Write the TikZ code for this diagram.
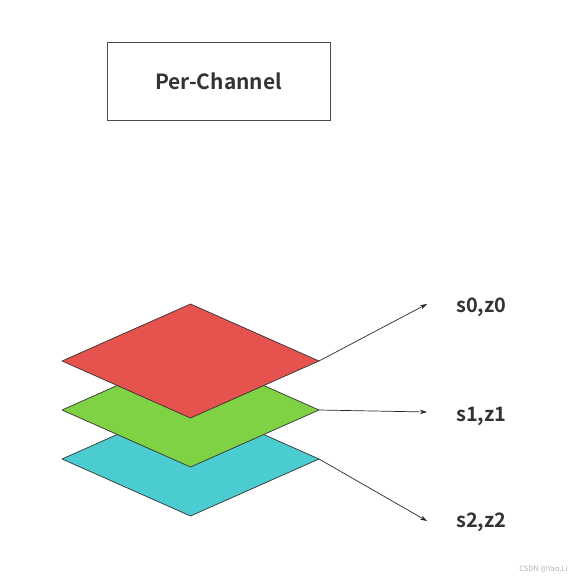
\documentclass[tikz,border=0pt]{standalone}
\usepackage{fontspec}
\setmainfont{Noto Sans CJK SC}[BoldFont={Noto Sans CJK SC Bold}]
\usetikzlibrary{arrows.meta}
\definecolor{layerred}{RGB}{230,82,78}
\definecolor{layergreen}{RGB}{126,210,68}
\definecolor{layercyan}{RGB}{74,204,208}
\definecolor{txt}{RGB}{51,51,51}
\tikzset{
  layer/.style={draw=black!80, line width=0.7bp, line join=round},
  conn/.style={draw=black!85, line width=0.7bp, -{Stealth[length=7bp,width=4.5bp]}},
  lbl/.style={font=\fontsize{20}{22}\selectfont\bfseries, text=txt, anchor=base west, inner sep=0pt},
  titlebox/.style={draw=black!70, line width=0.8bp, minimum width=223bp, minimum height=78bp, font=\fontsize{21}{24}\selectfont\bfseries, text=txt}
}
\begin{document}
\begin{tikzpicture}[x=1bp,y=-1bp]
\useasboundingbox (0,0) rectangle (575,582);
\node[titlebox] (title) at (218.5,81) {Per-Channel};
% layers
\draw[layer, fill=layercyan] (62,459) -- (190.5,402) -- (319,459) -- (190.5,516) -- cycle;
\draw[layer, fill=layergreen] (62,410) -- (190.5,353) -- (319,410) -- (190.5,467) -- cycle;
\draw[layer, fill=layerred] (62,361) -- (190.5,304) -- (319,361) -- (190.5,418) -- cycle;
\coordinate (r) at (319,361);
\coordinate (g) at (319,410);
\coordinate (c) at (319,459);
\coordinate (t0) at (427,304);
\coordinate (t1) at (427,412);
\coordinate (t2) at (427,521);
\draw[conn] (r) -- (t0);
\draw[conn] (g) -- (t1);
\draw[conn] (c) -- (t2);
\node[lbl] (l0) at (456,312) {s0,z0};
\node[lbl] (l1) at (456,421) {s1,z1};
\node[lbl] (l2) at (456,527) {s2,z2};
\node[font=\fontsize{7.5}{8}\selectfont, text=black!30, anchor=east, inner sep=0pt] (wm) at (568,569) {CSDN @Yao.Li};
\end{tikzpicture}
\end{document}
